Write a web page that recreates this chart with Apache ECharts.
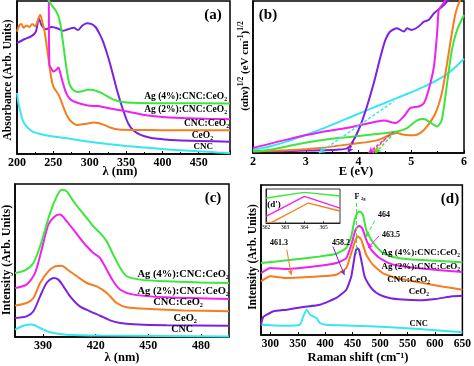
<!DOCTYPE html>
<html><head><meta charset="utf-8">
<script src="https://cdn.jsdelivr.net/npm/echarts@6/dist/echarts.min.js"></script>
<style>html,body{margin:0;padding:0;background:#fff}#c{width:474px;height:366px}</style>
</head><body><div id="c"></div>
<script>
const C = {ag4:'#3de63d', ag2:'#f020f0', cnccoe:'#f57d1f', ceo2:'#7a22e0', cnc:'#38e6f2'};
const FONT = "'Liberation Serif','Times New Roman',serif";

// ---- Panel (a): absorbance vs wavelength (nm) ----
const absCNC = [[200,40],[202,33],[205,27],[208,22],[213,18],[222,14.5],[235,12.8],[250,11.5],[275,9.8],[300,8],[325,6.5],[350,5.2],[375,4.2],[400,3.2],[425,2.5],[450,1.8],[475,1],[493,0.5]];
const absCeO2 = [[200,72.5],[210,75],[220,77],[226,80],[230,88.5],[234,84],[240,81.5],[248,83],[256,82],[263,80.5],[270,81.5],[278,82.5],[284,81],[290,84],[296,85.5],[302,85],[308,83],[313,79],[318,74],[323,67],[328,59],[333,50],[338,41],[343,33],[348,26],[353,20],[360,15.5],[370,12.5],[385,10.5],[400,9.7],[420,9],[450,8.5],[493,8]];
const absCNCCeO2 = [[200,80],[203,84],[206,85],[209,82.5],[213,84],[217,83],[221,85],[225,83.5],[229,88],[232,91],[235,86],[238,80],[241,70],[244,60],[247,50],[250,44],[254,41],[258,38],[262,33],[266,28],[270,24],[275,21],[282,19],[290,19.5],[298,20],[305,20.6],[312,20.3],[320,19],[330,17],[340,16],[360,15.7],[400,15.6],[493,15.6]];
const absAg2 = [[243.8,104],[244.6,58],[247,56],[250,54],[254,55],[257,56.5],[260,52],[264,45],[268,39.5],[273,36],[280,34],[290,32.5],[300,31.5],[312,31.3],[325,30],[340,28.8],[355,27.5],[375,25.5],[400,24.2],[430,23.5],[460,23],[493,22.7]];
const absAg4 = [[243,101],[248,97],[253,94],[257,90],[260,84],[263,74],[266,63],[269,53],[272,46],[276,42.5],[283,40.5],[290,41],[297,42],[303,42],[310,41],[318,39.5],[325,37.5],[333,35.5],[345,34],[360,33.5],[400,33.2],[493,33]];

// ---- Panel (b): Tauc plot vs E (eV) ----
const tcCNC = [[2,2],[2.33,4.5],[2.64,7.5],[2.96,11.5],[3.28,15.5],[3.6,20],[3.91,24.5],[4.22,29],[4.54,33.5],[4.86,38],[5.17,42.5],[5.49,48],[5.74,53.5],[6,62]];
const tcCeO2 = [[2,1],[2.5,1.2],[3,1.6],[3.6,2.2],[3.8,3.3],[3.91,8.8],[4.03,17.5],[4.16,30.6],[4.29,46],[4.41,62.4],[4.51,74.4],[4.6,79.9],[4.73,82],[4.86,79.9],[4.92,82],[5.01,81],[5.14,83.2],[5.24,86.4],[5.33,87.5],[5.43,91.9],[5.55,95.2],[5.65,98.5],[5.71,100.7]];
const tcCNCCeO2 = [[2,1.1],[2.64,1.8],[3.28,3.3],[3.91,6.1],[4.35,8.3],[4.6,12],[4.73,13.1],[4.86,12],[5.05,11.6],[5.17,13.1],[5.3,17.5],[5.46,26.3],[5.58,39.4],[5.68,59.1],[5.77,78.8],[5.84,91.9],[5.9,98.5],[5.93,100.7]];
const tcAg2 = [[2,3.3],[2.64,8.8],[3.28,13.6],[3.78,16.4],[4.22,19.7],[4.48,21.4],[4.7,19.7],[4.86,24.1],[4.98,29.5],[5.14,30.6],[5.24,32.8],[5.33,41.6],[5.43,56.9],[5.49,78.8],[5.52,94],[5.56,96.3],[5.61,98.5],[5.65,100.6]];
const tcAg4 = [[2,1.1],[2.33,2.2],[2.96,6.6],[3.6,9.8],[4.22,12],[4.73,14.2],[4.92,16.4],[5.11,21.4],[5.24,22.3],[5.36,20.1],[5.49,17.5],[5.58,21.9],[5.68,46],[5.77,67.8],[5.87,81],[6,90.8]];
const fitCNC = [[3.25,0],[4.67,34]];
const fitCeO2 = [[3.8,0],[4.0,15]];
const fitAg2 = [[4.19,0],[4.67,14]];
const fitCNCCeO2 = [[4.27,0],[4.6,13]];
const fitAg4 = [[4.32,0],[4.67,13]];

// ---- Panel (c): PL intensity vs wavelength (nm) ----
const plCNC = [[374,4.8],[378.8,7.4],[383.5,8.1],[388.3,5.9],[394,3.1],[403.5,1.5],[422.5,0.9],[496,0.4]];
const plCeO2 = [[374,12.4],[380.6,13.5],[384.5,16.8],[388.3,26.6],[392,35.3],[396,38.6],[398.7,37.5],[401.6,33.1],[405.4,26.6],[411,20],[416.8,16.8],[422.5,13.9],[428.2,10.9],[434,9.2],[441.5,8.3],[460.5,7.6],[496,7.4]];
const plCNCCeO2 = [[374,20.5],[380.6,22.2],[384.5,25.5],[388.3,35.3],[393,42.9],[396.8,46.2],[400.6,46.6],[404.4,43.6],[409.2,39.7],[414.9,35.3],[420.6,33.1],[426.3,28.8],[432,22.2],[437.7,19.4],[451,18.3],[470,17.4],[496,16.8]];
const plAg2 = [[374,32],[380.6,34.2],[385.4,41.8],[389.2,57.1],[393,73.4],[396.8,78.9],[399.7,80],[403.5,75.6],[407.3,70.2],[411,64.7],[414.9,59.3],[418.7,54.9],[422.5,51.6],[426.3,44],[430,36.4],[434,30.9],[441.5,27.7],[460.5,25.9],[496,24.8]];
const plAg4 = [[374,41.8],[379.7,43.6],[384.5,48.4],[388.3,59.3],[394,81],[397.8,91.9],[400.6,96.3],[403.5,95.2],[407.3,88.7],[411,83.2],[414.9,77.8],[418.7,72.3],[422.5,68],[426.3,62.5],[430,53.8],[434,45.1],[437.7,39.7],[445.3,37.5],[460.5,36.4],[479.5,35.7],[496,35.3]];
const plTicks = [390,420,450,480];

// ---- Panel (d): Raman intensity vs Raman shift (cm-1) ----
const rmCNC = [[283,6.9],[330,6.2],[354,6.9],[360,12.4],[366,16.9],[372.2,13.6],[378.2,12.4],[384.3,11.3],[390.3,8],[402.3,6.9],[450.6,6.2],[510.8,5.3],[571,4],[631.3,2.4],[650,1.8]];
const rmCeO2 = [[283,6.9],[287,12],[293.8,13.6],[305.9,15.8],[330,16.9],[360.2,18.7],[390.3,20.2],[420.4,24.7],[438.5,30.2],[447.6,39.1],[453.6,52.4],[457.8,58],[461.4,56.9],[465.6,50.2],[471.7,39.1],[477.7,34.7],[486.7,30.2],[498.8,26.9],[516.9,24.7],[541,23.6],[571,23.1],[601.3,24],[631.5,25.8],[650,26.2]];
const rmCNCCeO2 = [[283,35.8],[300,39.1],[330,38],[390.3,39.1],[420.4,40.2],[438.5,44.7],[447.6,54.7],[455.4,63.6],[459.6,65.8],[465.6,63.6],[474.7,53.6],[486.7,46.9],[504.8,41.3],[528.9,38],[571,35.1],[613,32.4],[650,30.2]];
const rmAg2 = [[283,41.3],[300,44.7],[330,44],[390.3,46.2],[420.4,48],[438.5,51.3],[447.6,60.2],[455.4,70.2],[461.4,72.9],[467.4,71.3],[474.7,63.6],[483.7,56.9],[498.8,51.3],[522.9,47],[571,44.5],[650,42]];
const rmAg4 = [[283,48],[330,49.8],[390.3,52.4],[420.4,54.2],[438.5,58],[447.6,65.8],[453.6,76.9],[459.6,81.8],[463.8,82.4],[468.7,80.2],[474.7,70.2],[483.7,63.6],[492.8,59.1],[504.8,54.8],[522.9,52],[553,50.5],[601.3,49.5],[650,48.5]];
const rmTicks = [300,350,400,450,500,550,600,650];
const rmPeakLabels = [['464',384,215],['463.5',391,235],['461.3',279,243],['458.2',341,243]];

// ---- Inset (d'): zoom near 364 cm-1 ----
const inAg4 = [[362,73.5],[364,90.3],[365.85,79.4]];
const inAg2 = [[362,19.7],[364,78.5],[365.85,44]];
const inCNCCeO2 = [[362,2],[362.3,2],[364.2,58.8],[365.85,35.3]];
const inTicks = [362,363,364,365];

const chart = echarts.init(document.getElementById('c'), null, {renderer:'canvas'});

function gridBox(left, top, width, height){
  return {left, top, width, height, show:true, borderColor:'#000', borderWidth:1.5, backgroundColor:'transparent', containLabel:false};
}
function xAx(gi, min, max, opts){
  return Object.assign({gridIndex:gi, type:'value', min, max,
    axisLine:{show:true, onZero:false, lineStyle:{color:'#000', width:1.5}},
    axisTick:{show:true, inside:true, length:3, lineStyle:{color:'#000', width:1}},
    minorTick:{show:true, splitNumber:2, length:2, lineStyle:{color:'#000'}},
    axisLabel:{color:'#000', fontFamily:FONT, fontWeight:'bold', fontSize:12, margin:3, showMaxLabel:false},
    splitLine:{show:false}}, opts||{});
}
function yAx(gi){
  return {gridIndex:gi, type:'value', min:0, max:100,
    axisLine:{show:true, onZero:false, lineStyle:{color:'#000', width:1.5}},
    axisTick:{show:false}, axisLabel:{show:false}, splitLine:{show:false}};
}
function ln(data, color, gi, extra){
  return Object.assign({type:'line', xAxisIndex:gi, yAxisIndex:gi, data, symbol:'none',
    smooth:0.25, lineStyle:{color, width:2}, itemStyle:{color}, silent:true, clip:true, animation:false}, extra||{});
}
function fit(seg, color){
  return {silent:true, symbol:['arrow','none'], symbolSize:[5,6], label:{show:false},
    lineStyle:{color, type:[3,2], width:1.5}, data:[[{coord:seg[0]},{coord:seg[1]}]]};
}
function arrow(seg, color){
  return {silent:true, symbol:['none','arrow'], symbolSize:[4,5], label:{show:false},
    lineStyle:{color, type:'solid', width:1}, data:[[{coord:seg[0]},{coord:seg[1]}]]};
}
function txt(text, x, y, size, align, extra){
  return Object.assign({type:'text', x, y, z:100, silent:true,
    style:{text, fill:'#000', fontFamily:FONT, fontWeight:'bold', fontSize:size, align:align||'right', verticalAlign:'middle'}}, extra||{});
}
function vtxt(text, x, y, size, rich){
  return {type:'text', x, y, rotation:Math.PI/2, z:100, silent:true,
    style:{text, fill:'#000', fontFamily:FONT, fontWeight:'bold', fontSize:size, align:'center', verticalAlign:'middle', rich:rich}};
}
const supRich = {n:{fontFamily:FONT, fontWeight:'bold', fontSize:11, fill:'#000', lineHeight:14, verticalAlign:'bottom'},
                 s:{fontFamily:FONT, fontWeight:'bold', fontSize:7.5, fill:'#000', lineHeight:14, verticalAlign:'top'}};

const option = {
  animation:false,
  backgroundColor:'#fff',
  grid:[gridBox(17,1,213,153), gridBox(253,1,211,152), gridBox(15,184,214,153), gridBox(261,185,203,150),
        {left:266, top:189, width:74, height:34, show:true, borderColor:'#000', borderWidth:0.8, backgroundColor:'#fff', containLabel:false, z:5}],
  xAxis:[
    xAx(0,200,493,{interval:50}),
    xAx(1,2,6,{interval:1, axisLabel:{color:'#000', fontFamily:FONT, fontWeight:'bold', fontSize:12, margin:3}}),
    xAx(2,374,496,{axisLabel:{color:'#000', fontFamily:FONT, fontWeight:'bold', fontSize:12, margin:3, customValues:plTicks}, axisTick:{show:true, inside:true, length:3, customValues:plTicks, lineStyle:{color:'#000'}}, minorTick:{show:false}}),
    xAx(3,283,650,{axisLabel:{color:'#000', fontFamily:FONT, fontWeight:'bold', fontSize:11.5, margin:3, customValues:rmTicks}, axisTick:{show:true, inside:true, length:3, customValues:rmTicks, lineStyle:{color:'#000'}}, minorTick:{show:false}}),
    {gridIndex:4, type:'value', min:362, max:365.85, z:6,
      axisLine:{show:true, onZero:false, lineStyle:{color:'#000', width:0.8}},
      axisTick:{show:true, inside:true, length:2, customValues:inTicks, lineStyle:{color:'#000', width:0.6}},
      axisLabel:{color:'#000', fontFamily:FONT, fontSize:5.5, margin:2, customValues:inTicks}, splitLine:{show:false}}
  ],
  yAxis:[yAx(0), yAx(1), yAx(2), yAx(3),
    {gridIndex:4, type:'value', min:0, max:100, z:6, axisLine:{show:true, onZero:false, lineStyle:{color:'#000', width:0.8}}, axisTick:{show:false}, axisLabel:{show:false}, splitLine:{show:false}}],
  series:[
    ln(absCNC, C.cnc, 0), ln(absCeO2, C.ceo2, 0), ln(absCNCCeO2, C.cnccoe, 0), ln(absAg2, C.ag2, 0), ln(absAg4, C.ag4, 0),
    ln(tcCNC, C.cnc, 1, {markLine:fit(fitCNC, C.cnc)}),
    ln(tcCeO2, C.ceo2, 1, {markLine:fit(fitCeO2, C.ceo2)}),
    ln(tcCNCCeO2, C.cnccoe, 1, {markLine:fit(fitCNCCeO2, C.cnccoe)}),
    ln(tcAg2, C.ag2, 1, {markLine:fit(fitAg2, C.ag2)}),
    ln(tcAg4, C.ag4, 1, {markLine:fit(fitAg4, C.ag4)}),
    ln(plCNC, C.cnc, 2), ln(plCeO2, C.ceo2, 2), ln(plCNCCeO2, C.cnccoe, 2), ln(plAg2, C.ag2, 2), ln(plAg4, C.ag4, 2),
    ln(rmCNC, C.cnc, 3, {smooth:0.15}),
    ln(rmCeO2, C.ceo2, 3, {smooth:0.15, markLine:arrow([[414,59],[435,40]], C.ceo2)}),
    ln(rmCNCCeO2, C.cnccoe, 3, {smooth:0.15, markLine:arrow([[330,57],[338,40]], C.cnccoe)}),
    ln(rmAg2, C.ag2, 3, {smooth:0.15, markLine:arrow([[498,66],[478,58]], C.ag2)}),
    ln(rmAg4, C.ag4, 3, {smooth:0.15, markLine:{silent:true, label:{show:false}, data:[
        [{coord:[490,76],symbol:'none'},{coord:[474,65],symbol:'arrow',symbolSize:[4,5]}],
        [{coord:[456.6,88],symbol:'none'},{coord:[456.6,54],symbol:'none'}]],
      lineStyle:{color:C.ag4, width:1}}}),
    ln(inAg4, C.ag4, 4, {smooth:false, lineStyle:{color:C.ag4, width:1.3}, z:7}),
    ln(inAg2, C.ag2, 4, {smooth:false, lineStyle:{color:C.ag2, width:1.3}, z:7}),
    ln(inCNCCeO2, C.cnccoe, 4, {smooth:false, lineStyle:{color:C.cnccoe, width:1.3}, z:7})
  ],
  graphic:[
    // panel letters
    txt('(a)',213,15,15,'center'), txt('(b)',268,15,15,'center'), txt('(c)',213,198,15,'center'), txt('(d)',450,199,15,'center'),
    txt("(d')",274,205,9,'center'),
    // axis titles
    txt('λ (nm)',120,172,12.5,'center'), txt('E (eV)',356,172,12.5,'center'), txt('λ (nm)',122,358,12.5,'center'), txt('Raman shift (cm⁻¹)',358,358,12.5,'center'),
    vtxt('Absorbance (Arb. Units)',8,80,11.5),
    vtxt('{n|(αhν)}{s|1/2}{n| (eV cm}{s|-1}{n|)}{s|1/2}',244,66,11,supRich),
    vtxt('Intensity (Arb. Units)',7,260,12),
    vtxt('Intensity (Arb. Units)',253,257,11.5),
    // panel (a) series labels
    txt('Ag (4%):CNC:CeO₂',227,97,9.5), txt('Ag (2%):CNC:CeO₂',227,110,9.5), txt('CNC:CeO₂',229,124,9.5), txt('CeO₂',213,136,9.5), txt('CNC',213,147,9),
    // panel (c) series labels
    txt('Ag (4%):CNC:CeO₂',229,274,10.5), txt('Ag (2%):CNC:CeO₂',229,291,10.5), txt('CNC:CeO₂',203,302,10.5), txt('CeO₂',197,318,10.5), txt('CNC',193,329,10),
    // panel (d) series labels
    txt('Ag (4%):CNC:CeO₂',460,253,9), txt('Ag (2%):CNC:CeO₂',460,267,9), txt('CNC:CeO₂',430,280,9), txt('CeO₂',429,292,9), txt('CNC',428,324,8.5),
    txt('F',357,197,8,'center'), txt('2g',361,199,4.5,'left'),
    ...rmPeakLabels.map(p => txt(p[0], p[1], p[2], 8, 'center'))
  ]
};
chart.setOption(option);
</script></body></html>
